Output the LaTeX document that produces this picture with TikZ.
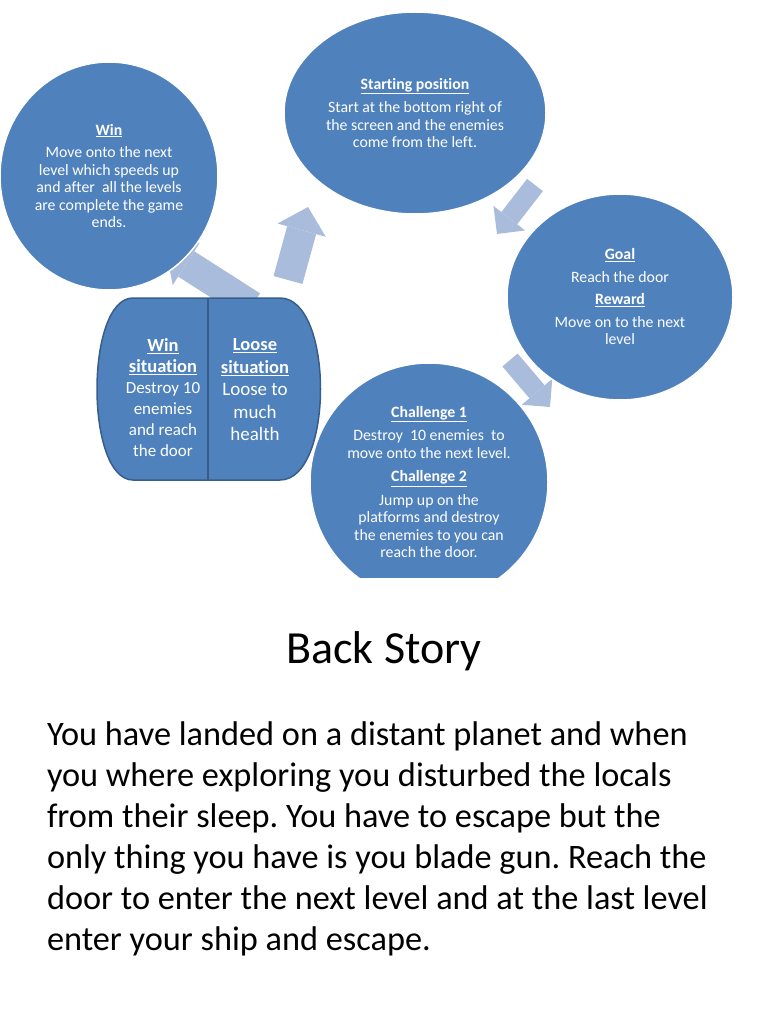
\documentclass[tikz,border=0pt]{standalone}
\usepackage{fontspec}
\setmainfont{Carlito}[Ligatures=NoCommon]
\usetikzlibrary{shapes.geometric,arrows.meta,positioning}
\definecolor{bubbleblue}{HTML}{4F81BD}
\definecolor{bubbleedge}{HTML}{385D8A}
\definecolor{arrowblue}{HTML}{AABCDC}
\newcommand{\hdr}[1]{\underline{\textbf{#1}}}
\newcommand{\sithdr}[1]{{\fontsize{18.5}{21}\selectfont\hdr{#1}}}
\frenchspacing

\begin{document}
\begin{tikzpicture}[x=1pt, y=-1pt, node distance=14pt,
  bubble/.style={ellipse, fill=bubbleblue, draw=white, line width=1.5pt, text=white,
    inner sep=0pt, align=center, font=\fontsize{15.8}{17.5}\selectfont},
  flow/.style={arrowblue, line width=30pt, -{Triangle[length=24pt, width=50pt, line width=0pt]}},
  smallflow/.style={arrowblue, line width=20pt, -{Triangle[length=20pt, width=40pt, line width=0pt]}},
  splitbox/.style={fill=bubbleblue, draw=bubbleedge, line width=1.5pt},
  sittext/.style={text=white, align=center, inner sep=0pt}]
\useasboundingbox (0,0) rectangle (768,1024);

% block arrows sit behind the bubbles
\coordinate (toWinTail)   at (252,306);
\coordinate (toWinTip)    at (166,251);
\coordinate (toStartTail) at (288,280);
\coordinate (toStartTip)  at (308,207);
\coordinate (toGoalTail)  at (535,185);
\coordinate (toGoalTip)   at (497,234);
\coordinate (toChalTail)  at (510,360);
\coordinate (toChalTip)   at (550,407);
\draw[flow] (toWinTail) -- (toWinTip);
\draw[flow] (toStartTail) -- (toStartTip);
\draw[smallflow] (toGoalTail) -- (toGoalTip);
\draw[smallflow] (toChalTail) -- (toChalTip);

% the cycle
\node[bubble, minimum width=218pt, minimum height=228pt] (win) at (109,176)
  {\hdr{Win}\\[5pt]Move onto the next\\level which speeds up\\and after\ \ all the levels\\are complete the game\\ends.};
\node[bubble, minimum width=262pt, minimum height=202pt] (start) at (415,113)
  {\hdr{Starting position}\\[6pt]Start at the bottom right of\\the screen and the enemies\\come from the left.};
\node[bubble, minimum width=226pt, minimum height=206pt] (goal) at (620,297)
  {\hdr{Goal}\\[5pt]Reach the door\\[5pt]\hdr{Reward}\\[5pt]Move on to the next\\level};
\begin{scope}
\clip (0,0) rectangle (768,577);
\node[bubble, minimum width=238pt, minimum height=238pt] (chal) at (429,482)
  {\hdr{Challenge 1}\\[6pt]Destroy\ \ 10 enemies\ \ to\\move onto the next level.\\[6pt]\hdr{Challenge 2}\\[6pt]Jump up on the\\platforms and destroy\\the enemies to you can\\reach the door.};
\end{scope}

% win / loose box
\draw[splitbox] (133,298) -- (280,298) .. controls (334,298) and (334,480) .. (280,480)
  -- (133,480) .. controls (85,480) and (85,298) .. (133,298) -- cycle;
\draw[bubbleedge, line width=1.5pt] (208,298) -- (208,480);
\node[sittext, font=\fontsize{17}{21}\selectfont] (winsit) at (163,398)
  {\sithdr{Win}\\\sithdr{situation}\\Destroy 10\\enemies\\and reach\\the door};
\node[sittext, font=\fontsize{19}{22.5}\selectfont] (loosesit) at (255,390)
  {\sithdr{Loose}\\\sithdr{situation}\\Loose to\\much\\health};

% back story
\node[font=\fontsize{46}{55}\selectfont, inner sep=0pt] (story) at (384,651) {Back Story};
\node[below=51pt of story, text width=690pt, align=flush left, inner sep=0pt,
  font=\fontsize{34.3}{41}\selectfont, xshift=8pt] (plot)
  {You have landed on a distant planet and when\\
   you where exploring you disturbed the locals\\
   from their sleep. You have to escape but the\\
   only thing you have is you blade gun. Reach the\\
   door to enter the next level and at the last level\\
   enter your ship and escape.};
\end{tikzpicture}
\end{document}
